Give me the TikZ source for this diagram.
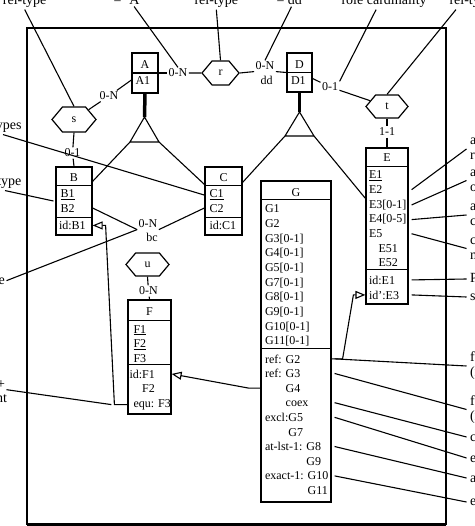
\documentclass[tikz,border=0pt]{standalone}
\usepackage{fontspec}
\setmainfont{Liberation Serif}
\usetikzlibrary{arrows.meta,shapes.symbols}
\newcommand\boxfont{\fontsize{12}{14.65}\selectfont}
\newcommand\notefont{\fontsize{14}{15}\selectfont}
\tikzset{
  ent/.style={draw, line width=1.2pt, inner sep=0pt},
  head/.style={font=\boxfont, inner sep=0pt, anchor=base},
  attr/.style={font=\boxfont, inner sep=0pt, anchor=base west},
  card/.style={font=\boxfont, inner sep=1pt},
  rel/.style={draw, line width=1.2pt, signal, signal to=east and west,
    signal pointer angle=100, font=\boxfont, inner sep=0pt},
  isa/.style={line width=3.5pt},
  incl/.style={-{Triangle[open,length=10pt,width=8pt]}},
  note/.style={font=\notefont, inner sep=1pt}
}
\begin{document}
\begin{tikzpicture}[x=1pt, y=-1pt, line width=1.1pt]
\useasboundingbox (0,0) rectangle (474,526);
\clip (0,0) rectangle (474,526);

% cadre du schema
\draw (27,28) rectangle (446,524.5);
\draw[line width=2.7pt] (27,524.5) -- (446,524.5);

% entite A
\node[ent, minimum width=26pt, minimum height=40pt] (A) at (145,73) {};
\draw (A.west) -- (A.east);
\node[head] at (145,69) {A};
\node[attr] (A-a1) at (135,85) {A1};

% entite D
\node[ent, minimum width=25pt, minimum height=39pt] (D) at (299.5,72.5) {};
\draw (D.west) -- (D.east);
\node[head] at (299.5,68.5) {D};
\node[attr] (D-a1) at (290.5,85) {D1};

% entite B
\node[ent, minimum width=36pt, minimum height=68pt] (B) at (74,201) {};
\draw ([yshift=-19pt]B.north west) -- ([yshift=-19pt]B.north east);
\draw ([yshift=-51pt]B.north west) -- ([yshift=-51pt]B.north east);
\node[head] at (74,182) {B};
\node[attr] (B-a1) at (60,197.5) {\underline{B1}};
\node[attr] (B-a2) at (60,212.1) {B2};
\node[attr] (B-i1) at (58.5,229.5) {id:B1};

% entite C
\node[ent, minimum width=37pt, minimum height=68pt] (C) at (223.5,201) {};
\draw ([yshift=-19pt]C.north west) -- ([yshift=-19pt]C.north east);
\draw ([yshift=-51pt]C.north west) -- ([yshift=-51pt]C.north east);
\node[head] at (223.5,182) {C};
\node[attr] (C-a1) at (209,198) {\underline{C1}};
\node[attr] (C-a2) at (209,212.6) {C2};
\node[attr] (C-i1) at (209,229.5) {id:C1};

% entite E
\node[ent, minimum width=42pt, minimum height=156pt] (E) at (387,226) {};
\draw ([yshift=-19pt]E.north west) -- ([yshift=-19pt]E.north east);
\draw ([yshift=-122pt]E.north west) -- ([yshift=-122pt]E.north east);
\node[head] at (387,162) {E};
\foreach \txt [count=\i] in {\underline{E1}, E2, E3[0-1], E4[0-5], E5,
    \hspace{9.5pt}E51, \hspace{9.5pt}E52}
  \node[attr] (E-a\i) at (368.5,{179+14.65*(\i-1)}) {\txt};
\node[attr] (E-i1) at (368.5,284) {id:E1};
\node[attr] (E-i2) at (368.5,299) {id':E3};

% entite G
\node[ent, minimum width=70pt, minimum height=321pt] (G) at (296,341.5) {};
\draw ([yshift=-19pt]G.north west) -- ([yshift=-19pt]G.north east);
\draw ([yshift=-168pt]G.north west) -- ([yshift=-168pt]G.north east);
\node[head] at (296,197) {G};
\foreach \txt [count=\i] in {G1, G2, G3[0-1], G4[0-1], G5[0-1], G7[0-1],
    G8[0-1], G9[0-1], G10[0-1], G11[0-1]}
  \node[attr] (G-a\i) at (264.5,{213+14.65*(\i-1)}) {\txt};
\foreach \txt [count=\i] in {ref: G2, ref: G3, \phantom{ref: }G4,
    \phantom{ref: }coex, excl:G5, \phantom{excl:}G7, at-lst-1: G8,
    \phantom{at-lst-1: }G9, exact-1: G10, \phantom{exact-1: }G11}
  \node[attr] (G-k\i) at (264.5,{363+14.6*(\i-1)}) {\txt};

% entite F
\node[ent, minimum width=43pt, minimum height=114pt] (F) at (149.5,357) {};
\draw ([yshift=-21pt]F.north west) -- ([yshift=-21pt]F.north east);
\draw ([yshift=-65pt]F.north west) -- ([yshift=-65pt]F.north east);
\node[head] at (149.5,315) {F};
\foreach \txt [count=\i] in {\underline{F1}, \underline{F2}, F3}
  \node[attr] (F-a\i) at (133,{333+14.65*(\i-1)}) {\txt};
\node[attr] (F-i1) at (129,378) {id:F1};
\node[attr] (F-i2) at (129,392.6) {\phantom{id:}F2};
\node[attr] (F-i3) at (133,407.3) {equ: F3};

% types de relations
\node[rel, minimum width=37pt, minimum height=24pt] (r) at (220.5,73) {r};
\node[rel, minimum width=44pt, minimum height=25pt] (s) at (74,119.5) {s};
\node[rel, minimum width=42pt, minimum height=23pt] (t) at (387,106.5) {t};
\node[rel, minimum width=43pt, minimum height=23pt] (u) at (147.5,264.5) {u};

% cardinalites
\node[card] (cAr) at (178,73) {0-N};
\node[card] (cAs) at (109,96) {0-N};
\node[card] (cSB) at (72.5,153) {0-1};
\node[card] (cDr) at (265,66) {0-N};
\node[card] (cDrn) at (266.5,80) {dd};
\node[card] (cDt) at (330,87) {0-1};
\node[card] (cTE) at (387,132) {1-1};
\node[card] (cUF) at (148.5,291) {0-N};
\node[card] (cbc) at (148,224) {0-N};
\node[card] (bcn) at (152,237) {bc};

% roles
\draw (A.east) -- (cAr);
\draw (cAr) -- (r);
\draw (r.east) -- (cDr.south west);
\draw (cDr.south east) -- (D.west);
\draw ([yshift=-7pt]A.west) -- (cAs);
\draw (cAs) -- (s);
\draw (s.south) -- (cSB);
\draw (cSB) -- (B.north);
\draw ([yshift=-6pt]D.east) -- (cDt);
\draw (cDt) -- (t);
\draw (t.south) -- (cTE);
\draw (cTE) -- (E.north);
\draw (u.south) -- (cUF);
\draw (cUF) -- (F.north);
\draw ([yshift=-7pt]B.east) -- (cbc.south west);
\draw ([yshift=-7pt]C.west) -- (cbc.south east);

% relations is-a
\coordinate (isa1) at (144.5,117);
\draw (isa1) -- ++(14.5,25) coordinate (isa1r) -- ++(-29,0) coordinate (isa1l) -- cycle;
\draw[isa] (A.south) -- (isa1);
\draw (isa1l) -- ([yshift=-15pt]B.north east);
\draw (isa1r) -- ([yshift=-18pt]C.north west);
\coordinate (isa2) at (299.5,112);
\draw (isa2) -- ++(14.5,24) coordinate (isa2r) -- ++(-29,0) coordinate (isa2l) -- cycle;
\draw[isa] (D.south) -- (isa2);
\draw (isa2l) -- ([yshift=-16pt]C.north east);
\draw (isa2r) -- ([yshift=-51pt]E.north west);

% contraintes referentielles
\draw[incl] (G.east |- G-k1) -- ++(11,0) -- ([xshift=-12pt]E.west |- E-i2) -- (E.west |- E-i2);
\draw[incl] (G.west |- G-k3) -- ++(-12,0) -- (F.east |- F-i1);
\draw[incl] (F.west |- F-i3) -- ++(-13,0) coordinate (fb) -- ([xshift=13pt]B.east |- B-i1) -- (B.east |- B-i1);

% legendes en haut
\node[note, anchor=base east] (nRel) at (48,5) {rel-type};
\node[note, anchor=base west] (nA) at (112,5) {=\hspace{8pt}A};
\node[note, anchor=base west] (nRel2) at (193,5) {rel-type};
\node[note, anchor=base west] (nDd) at (275,5) {= dd};
\node[note, anchor=base west] (nCard) at (340,5) {role cardinality};
\node[note, anchor=base west] (nRel3) at (448,5) {rel-type};
\draw (nRel.south) -- (s.north);
\draw ([xshift=-7pt]nA.south east) -- (cAr.north);
\draw (nRel2.south) -- (r.north);
\draw ([xshift=-12pt]nDd.south east) -- (cDr.north);
\draw ([xshift=-8pt]nCard.south) -- (cDt.north east);
\draw ([xshift=8pt]nRel3.south west) -- (t.north);

% legendes a gauche
\node[note, anchor=base east] (nSub) at (23,130) {subtypes};
\node[note, anchor=base east] (nEnt) at (23,186) {entity type};
\node[note, anchor=base east] (nBin) at (6.5,284) {binary rel-type};
\node[note, anchor=base east] (nInc) at (6.5,388) {inclusion +};
\node[note, anchor=base east] (nEqu) at (8.5,402) {equality constraint};
\draw ([xshift=-20pt]nSub.south east) -- (C.west |- C-a1);
\draw ([xshift=-18pt]nEnt.south east) -- ([xshift=-2pt]B.west);
\draw (nBin.east) -- (cbc.south west);
\draw (nInc.south east) -- ([xshift=-3pt]fb);

% legendes a droite
\node[note, anchor=west, align=left] (nR1) at (468.5,149) {atomic attribute\\required};
\node[note, anchor=west, align=left] (nR2) at (468.5,180.5) {atomic attribute\\optional};
\node[note, anchor=west, align=left] (nR3) at (468.5,215) {atomic attribute\\cardinality [0-5]};
\node[note, anchor=west, align=left] (nR4) at (468.5,248.5) {compound attribute\\mandatory};
\node[note, anchor=west] (nR5) at (468.5,279) {Primary identifier};
\node[note, anchor=west] (nR6) at (468.5,297) {secondary identifier};
\node[note, anchor=west, align=left] (nR7) at (468.5,366) {foreign key\\(reference)};
\node[note, anchor=west, align=left] (nR8) at (468.5,409.5) {foreign key\\(multi-component)};
\node[note, anchor=west] (nR9) at (468.5,437) {coexistence};
\node[note, anchor=west] (nR10) at (468.5,458) {exclusion};
\node[note, anchor=west] (nR11) at (468.5,478) {at-least-one};
\node[note, anchor=west] (nR12) at (468.5,502) {exactly-one};
\draw ([xshift=3pt]E.east |- E-a2) -- ([xshift=-2pt]nR1.west);
\draw ([xshift=3pt]E.east |- E-a3) -- ([xshift=-2pt]nR2.west);
\draw ([xshift=3pt]E.east |- E-a4) -- ([xshift=-2pt]nR3.west);
\draw ([xshift=3pt]E.east |- E-a5) -- ([xshift=-2pt]nR4.west);
\draw ([xshift=3pt]E.east |- E-i1) -- ([xshift=-2pt]nR5.west);
\draw ([xshift=3pt]E.east |- E-i2) -- ([xshift=-2pt]nR6.west);
\draw ([xshift=3pt]G.east |- G-k1) -- ([xshift=-2pt]nR7.west);
\draw ([xshift=3pt]G.east |- G-k2) -- ([xshift=-2pt]nR8.west);
\draw ([xshift=3pt]G.east |- G-k4) -- ([xshift=-2pt]nR9.west);
\draw ([xshift=3pt]G.east |- G-k5) -- ([xshift=-2pt]nR10.west);
\draw ([xshift=3pt]G.east |- G-k7) -- ([xshift=-2pt]nR11.west);
\draw ([xshift=3pt]G.east |- G-k9) -- ([xshift=-2pt]nR12.west);

\end{tikzpicture}
\end{document}
